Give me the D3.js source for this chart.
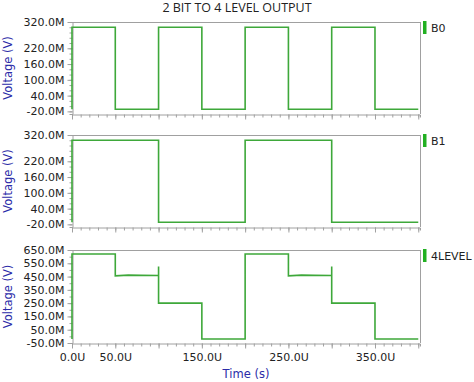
<!DOCTYPE html>
<html><head><meta charset="utf-8">
<script src="https://cdn.jsdelivr.net/npm/d3@7"></script>
<style>body{margin:0;background:#fff;} svg{display:block;}</style>
</head><body>
<script>
// ---- data ----
const title = "2 BIT TO 4 LEVEL OUTPUT";
const xTickLabels = [0, 50, 150, 250, 350];
const b0Times  = [0, 0, 50, 50, 100, 100, 150, 150, 200, 200, 250, 250, 300, 300, 350, 350, 400];
const b0Values = [-12, 300, 300, -12, -12, 300, 300, -12, -12, 300, 300, -12, -12, 300, 300, -12, -12];
const b1Times  = [0, 0, 100, 100, 200, 200, 300, 300, 400];
const b1Values = [-12, 300, 300, -12, -12, 300, 300, -12, -12];
const l4Times  = [0, 0, 50, 50, 65, 80, 100, 100, 100, 150, 150, 200, 200, 250, 250, 265, 280, 300, 300, 300, 350, 350, 400];
const l4Values = [-20, 620, 620, 455, 461, 459, 458, 525, 250, 250, -20, -20, 620, 620, 455, 461, 459, 458, 525, 250, 250, -20, -20];
const bitTicks = [320, 220, 160, 100, 40, -20];
const lvlTicks = [650, 550, 450, 350, 250, 150, 50, -50];

const panels = [
  {name: "B0", t: b0Times, v: b0Values, ticks: bitTicks, domain: [-30, 320], top: 22, bottom: 114, minor: 20},
  {name: "B1", t: b1Times, v: b1Values, ticks: bitTicks, domain: [-30, 320], top: 135, bottom: 227, minor: 20},
  {name: "4LEVEL", t: l4Times, v: l4Values, ticks: lvlTicks, domain: [-50, 650], top: 250, bottom: 343, minor: 50}
];

const W = 474, H = 382;
const left = 72, right = 420;
const green = "#3ea83a", frame = "#a0a0a0", blue = "#2b2ba8", txt = "#222";
const font = "DejaVu Sans, sans-serif";

const svg = d3.select("body").append("svg").attr("width", W).attr("height", H);
const x = d3.scaleLinear().domain([0, 402]).range([left, right]);

svg.append("text").attr("x", 237).attr("y", 12).attr("text-anchor", "middle")
  .attr("font-family", "Open Sans, sans-serif").attr("font-size", 12.5).attr("fill", txt).text(title);

panels.forEach((p, i) => {
  const y = d3.scaleLinear().domain(p.domain).range([p.bottom, p.top]);
  const g = svg.append("g");
  // frame top & right
  g.append("line").attr("x1", left).attr("x2", right).attr("y1", p.top + 0.5).attr("y2", p.top + 0.5).attr("stroke", frame);
  g.append("line").attr("x1", right + 0.5).attr("x2", right + 0.5).attr("y1", p.top).attr("y2", p.bottom).attr("stroke", frame);
  // y axis: minor ticks
  const minorVals = d3.range(p.domain[0] - (p.domain[0] % p.minor) , p.domain[1] + 1, p.minor).filter(v => v >= p.domain[0]);
  const ya = d3.axisLeft(y).tickValues(minorVals).tickSize(3).tickFormat("");
  const yg = g.append("g").attr("transform", `translate(${left + 0.5},0)`).call(ya);
  yg.selectAll("line,path").attr("stroke", frame);
  const ya2 = d3.axisLeft(y).tickValues(p.ticks).tickSize(5).tickPadding(3).tickFormat(d => d.toFixed(1) + "M");
  const yg2 = g.append("g").attr("transform", `translate(${left + 0.5},0)`).call(ya2);
  yg2.select("path").remove();
  yg2.selectAll("line").attr("stroke", frame);
  yg2.selectAll("text").attr("font-family", font).attr("font-size", 11).attr("fill", txt);
  // x axis
  const xa = d3.axisBottom(x).tickValues(d3.range(0, 401, 10)).tickSize(3).tickFormat("");
  const xg = g.append("g").attr("transform", `translate(0,${p.bottom + 0.5})`).call(xa);
  xg.selectAll("line,path").attr("stroke", frame);
  const xa2 = d3.axisBottom(x).tickValues(d3.range(0, 401, 50)).tickSize(5).tickPadding(5)
    .tickFormat(d => (i === 2 && xTickLabels.includes(d)) ? d.toFixed(1) + "U" : "");
  const xg2 = g.append("g").attr("transform", `translate(0,${p.bottom + 0.5})`).call(xa2);
  xg2.select("path").remove();
  xg2.selectAll("line").attr("stroke", frame);
  xg2.selectAll("text").attr("font-family", font).attr("font-size", 11).attr("fill", txt);
  // signal
  const pts = p.t.map((t, k) => [t, p.v[k]]);
  g.append("path").datum(pts)
    .attr("d", d3.line().x(d => x(d[0])).y(d => y(d[1])))
    .attr("fill", "none").attr("stroke", green).attr("stroke-width", 1.6);
  // y label
  svg.append("text").attr("transform", `translate(12,${(p.top + p.bottom) / 2}) rotate(-90)`)
    .attr("text-anchor", "middle").attr("font-family", font).attr("font-size", 11.5).attr("fill", blue)
    .text("Voltage (V)");
  // legend
  svg.append("rect").attr("x", 423).attr("y", p.top - 1).attr("width", 3.5).attr("height", 13).attr("fill", "#22b022");
  svg.append("text").attr("x", 431).attr("y", p.top + 10).attr("font-family", font).attr("font-size", 11)
    .attr("fill", txt).text(p.name);
});

svg.append("text").attr("x", 246).attr("y", 378).attr("text-anchor", "middle")
  .attr("font-family", font).attr("font-size", 11.5).attr("fill", blue).text("Time (s)");
</script>
</body></html>
